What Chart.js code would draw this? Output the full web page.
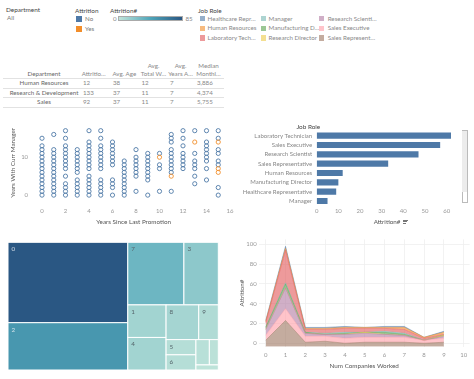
<!DOCTYPE html>
<html><head><meta charset="utf-8">
<script src="https://cdn.jsdelivr.net/npm/chart.js@4.4.1/dist/chart.umd.min.js"></script>
<style>
html,body{margin:0;padding:0}
body{width:474px;height:379px;background:#fff;position:relative;overflow:hidden;font-family:Lato,"Open Sans",sans-serif;color:#555}
.t{position:absolute;white-space:nowrap;line-height:1;font-size:6.2px;color:#666}
.box{position:absolute}
canvas{position:absolute;display:block}
.ln{position:absolute;height:0;border-top:1px solid #e2e2e2}
</style></head><body>
<canvas id="sc" width="240" height="115" style="left:0;top:115px"></canvas>
<canvas id="bar" width="234" height="112" style="left:240px;top:118px"></canvas>
<canvas id="tm" width="235" height="144" style="left:0;top:235px"></canvas>
<canvas id="ar" width="239" height="147" style="left:235px;top:232px"></canvas>
<script>
// ---------- DATA ----------
const attritionLabels = ['No','Yes'];
const jobRoles = ['Healthcare Representative','Human Resources','Laboratory Technician','Manager','Manufacturing Director','Research Director','Research Scientist','Sales Executive','Sales Representative'];
const jobRoleShort = ['Healthcare Repr…','Human Resources','Laboratory Tech…','Manager','Manufacturing D…','Research Director','Research Scienti…','Sales Executive','Sales Represent…'];
const attritionMax = 85;

// table
const deptNames = ['Human Resources','Research & Development','Sales'];
const deptAttrition = [12,133,92];
const deptAvgAge = [38,37,37];
const deptAvgTotalWorking = [12,11,11];
const deptAvgYearsAtCompany = [7,7,7];
const deptMedianMonthly = [3886,4374,5755];

// scatter: years since last promotion -> years with current manager
const promoYears = [0,1,2,3,4,5,6,7,8,9,10,11,12,13,14,15];
const mgrYearsNo = [
  [0,1,2,3,4,5,6,7,8,9,10,11,12,13,15],
  [0,1,2,3,4,5,6,7,8,9,10,11,12,16],
  [0,1,2,3,5,7,8,9,10,11,12,13,15,17],
  [0,1,2,3,4,6,7,8,9,10,11,12],
  [0,1,2,3,4,5,7,8,9,10,11,12,13,14,17],
  [0,1,2,3,4,7,8,9,10,11,12,13,15,17],
  [0,2,3,4,8,9,10,11,12,13,14],
  [0,1,2,3,4,5,6,7,8,9],
  [1,5,6,7,8,9,10,12],
  [0,4,5,6,7,8,9,10,11],
  [1,7,8,11],
  [1,6,7,8,9,10,11,12,14,15,16],
  [7,8,9,10,11,13,15,17],
  [3,5,7,8,9,11,17],
  [4,7,9,10,11,12,13,14,17],
  [0,2,8,9,11,12,15,17]
];
const mgrYearsYes = [[],[],[],[],[],[],[],[],[],[],[10],[5],[],[14],[],[6,7,14]];
const scatterXTicks = [0,2,4,6,8,10,12,14,16];
const scatterYTicks = [0,10];

// bar: attrition by job role
const barRoles = ['Laboratory Technician','Sales Executive','Research Scientist','Sales Representative','Human Resources','Manufacturing Director','Healthcare Representative','Manager'];
const barAttrition = [62,57,47,33,12,10,9,5];
const barXTicks = [0,10,20,30,40,50,60];

// treemap: attrition by years with current manager
const tmCats = ['0','2','7','3','1','4','8','9','5','6','10','11','12'];
const tmVals = [85,50,31,19,11,11,10,6,4,4,3,2,1];

// area: attrition by num companies worked, per job role (stack bottom -> top)
const numCompanies = [0,1,2,3,4,5,6,7,8,9];
const areaSalesRep     = [3,23,1,2,0,1,1,1,0,1];
const areaSalesExec    = [5,12,6,5,5,5,5,5,3,4];
const areaResearchSci  = [6,21,3,2,4,4,3,2,0,2];
const areaResearchDir  = [0,0,0,0,0,1,0,0,0,1];
const areaMfgDir       = [2,4,1,0,1,0,2,1,0,0];
const areaManager      = [0,1,0,1,1,0,1,1,0,0];
const areaLabTech      = [5,33,3,4,4,4,3,4,2,1];
const areaHR           = [1,2,1,1,1,1,1,2,1,2];
const areaHealthcare   = [1,2,1,1,1,0,1,1,0,1];
const areaXTicks = [0,1,2,3,4,5,6,7,8,9,10];
const areaYTicks = [0,20,40,60,80,100];

// ---------- STYLE ----------
const roleColors = ['78,121,167','242,142,43','225,87,89','118,183,178','89,161,79','237,201,72','176,122,161','255,157,167','156,117,95'];
const roleFill = c => `rgba(${c},0.6)`;
const attrColors = ['#4e79a7','#f28e2b'];
const gradStops = [[0,[192,228,218]],[0.5,[78,165,185]],[1,[42,87,131]]];
function grad(t){
  t=Math.max(0,Math.min(1,t));
  for(let i=1;i<gradStops.length;i++){
    if(t<=gradStops[i][0]){
      const a=gradStops[i-1],b=gradStops[i];const u=(t-a[0])/(b[0]-a[0]);
      return 'rgb('+a[1].map((v,k)=>Math.round(v+(b[1][k]-v)*u)).join(',')+')';
    }
  }
  return 'rgb('+gradStops[gradStops.length-1][1].join(',')+')';
}

Chart.defaults.font.family = 'Lato, "Open Sans", sans-serif';
Chart.defaults.font.size = 6;
Chart.defaults.color = '#8a8a8a';
Chart.defaults.animation = false;
Chart.defaults.events = [];
Chart.defaults.plugins.legend.display = false;
Chart.defaults.plugins.tooltip.enabled = false;

// ---------- HTML TEXT ----------
function txt(x,y,s,o={}){
  const d=document.createElement('div');d.className='t';d.textContent=s;
  d.style.left=x+'px';d.style.top=y+'px';
  d.style.transform=o.center?'translate(-50%,-50%)':'translateY(-50%)';
  if(o.size)d.style.fontSize=o.size+'px';
  if(o.color)d.style.color=o.color;
  document.body.appendChild(d);return d;
}
function box(x,y,w,h,bg,extra){
  const d=document.createElement('div');d.className='box';
  d.style.cssText+=`left:${x}px;top:${y}px;width:${w}px;height:${h}px;background:${bg};`+(extra||'');
  document.body.appendChild(d);return d;
}
const hd='#444';
txt(6,10,'Department',{size:6.4,color:hd});
txt(7,18,'All',{color:'#777'});
txt(75,10.5,'Attrition',{size:6.4,color:hd});
attritionLabels.forEach((l,i)=>{box(76,16+i*10.3,6,5.5,attrColors[i]);txt(85,18.8+i*10.3,l,{color:'#777'});});
txt(110,11,'Attrition#',{size:6.4,color:hd});
box(118,16.3,65,5,'linear-gradient(to right,'+gradStops.map(s=>grad(s[0])+' '+(s[0]*100)+'%').join(',')+')','border:0.5px solid #aaa;box-sizing:border-box');
txt(113,19,'0',{color:'#888'});
txt(185.5,19,String(attritionMax),{color:'#888'});
txt(198,10.5,'Job Role',{size:6.4,color:hd});
const legCols=[[199.5,207.5],[260.7,268.5],[319.3,327.7]];
jobRoleShort.forEach((r,i)=>{
  const c=Math.floor(i/3),row=i%3,y=18.7+row*9.7;
  box(legCols[c][0],y-2.7,5.2,5.2,roleFill(roleColors[i]));
  txt(legCols[c][1],y,r,{color:'#888'});
});

// table
const colCenters=[44,93.8,124.3,153.5,180.5,208.5];
const colLeft=[0,83,113,141.5,170,197];
txt(colCenters[0],74,'Department',{center:1,color:'#666'});
txt(colCenters[1],74,'Attritio…',{center:1,color:'#888'});
txt(colCenters[2],74,'Avg. Age',{center:1,color:'#888'});
txt(colCenters[3],66,'Avg.',{center:1,color:'#888'});txt(colCenters[3],74,'Total W…',{center:1,color:'#888'});
txt(colCenters[4],66,'Avg.',{center:1,color:'#888'});txt(colCenters[4],74,'Years A…',{center:1,color:'#888'});
txt(colCenters[5],66,'Median',{center:1,color:'#888'});txt(colCenters[5],74,'Monthl…',{center:1,color:'#888'});
function ln(x,y,w){const d=document.createElement('div');d.className='ln';d.style.left=x+'px';d.style.top=y+'px';d.style.width=w+'px';document.body.appendChild(d);}
ln(3,77.7,221);
deptNames.forEach((n,i)=>{
  const y=83.3+i*9.5;
  txt(colCenters[0],y,n,{center:1,color:'#666'});
  const vals=[deptAttrition[i],deptAvgAge[i],deptAvgTotalWorking[i],deptAvgYearsAtCompany[i],deptMedianMonthly[i].toLocaleString('en-US')];
  vals.forEach((v,k)=>txt(colLeft[k+1],y,String(v),{color:'#888'}));
  ln(3,y+4.6,221);
});

// bar header / scrollbar / sort icon
txt(296.5,126.5,'Job Role',{size:6.4,color:hd});
box(461.5,130,6.5,73,'#fff','border:0.6px solid #bbb;box-sizing:border-box');
box(462.3,130.8,4.9,61.5,'#ececec');
[[0,5],[1.6,4],[3.2,3]].forEach(a=>box(403,219.5+a[0],a[1],0.7,'#777'));

// ---------- SCATTER ----------
const noPts=[],yesPts=[];
promoYears.forEach((x,i)=>{mgrYearsNo[i].forEach(y=>noPts.push({x,y}));mgrYearsYes[i].forEach(y=>yesPts.push({x,y}));});
new Chart(document.getElementById('sc'),{
  type:'scatter',
  data:{datasets:[
    {data:yesPts,pointRadius:2.1,pointBorderWidth:0.9,borderColor:attrColors[1],backgroundColor:'rgba(0,0,0,0)'},
    {data:noPts,pointRadius:2.1,pointBorderWidth:0.9,borderColor:attrColors[0],backgroundColor:'rgba(0,0,0,0)'}
  ]},
  options:{responsive:false,
    layout:{padding:{left:2,top:6.5,right:5.3,bottom:0}},
    scales:{
      x:{type:'linear',min:-0.8,max:16.4,grid:{display:false,drawTicks:false},border:{display:false},
        afterBuildTicks:s=>{s.ticks=scatterXTicks.map(v=>({value:v}));},
        ticks:{padding:5,color:'#999',maxRotation:0},
        title:{display:true,text:'Years Since Last Promotion',color:'#555',font:{size:6.3},padding:{top:0,bottom:4}},
        afterFit:s=>{s.height=27.3;}},
      y:{type:'linear',min:-2,max:19,grid:{display:false,drawTicks:false},border:{display:false},
        afterBuildTicks:s=>{s.ticks=scatterYTicks.map(v=>({value:v}));},
        ticks:{padding:4.5,color:'#999'},
        title:{display:true,text:'Years With Curr Manager',color:'#555',font:{size:6.3},padding:{top:7,bottom:0}},
        afterFit:s=>{s.width=30.6;}}
    }
  }
});

// ---------- BAR ----------
new Chart(document.getElementById('bar'),{
  type:'bar',
  data:{labels:barRoles,datasets:[{data:barAttrition,backgroundColor:attrColors[0],categoryPercentage:1,barPercentage:0.66}]},
  options:{responsive:false,indexAxis:'y',
    layout:{padding:{left:0,top:13,right:16.5,bottom:0}},
    scales:{
      x:{type:'linear',min:0,max:65,grid:{display:false,drawTicks:false},border:{display:false},
        afterBuildTicks:s=>{s.ticks=barXTicks.map(v=>({value:v}));},
        ticks:{padding:1.8,color:'#999'},
        title:{display:true,text:'Attrition#',color:'#555',font:{size:6.3},padding:{top:0,bottom:4}},
        afterFit:s=>{s.height=24.3;}},
      y:{grid:{display:false,drawTicks:false},border:{display:false},
        ticks:{padding:4.5,color:'#888',autoSkip:false},
        afterFit:s=>{s.width=76.7;}}
    }
  }
});

// ---------- TREEMAP ----------
const tmValOf = {};tmCats.forEach((c,i)=>tmValOf[c]=tmVals[i]);
const tmSplit = ['h',['v','0','2'],['v',['h','7','3'],['h',['v','1','4'],['v',['h','8','9'],['h',['v','5','6'],['v',['h','10','11'],'12']]]]]];
const tmTotal = n => typeof n==='string'?tmValOf[n]:n.slice(1).reduce((a,c)=>a+tmTotal(c),0);
const tmRects=[];
(function lay(n,x0,y0,x1,y1){
  if(typeof n==='string'){tmRects.push({cat:n,v:tmValOf[n],x0,y0,x1,y1});return;}
  const dir=n[0],kids=n.slice(1),tot=tmTotal(n);let p=dir==='h'?x0:y0;
  kids.forEach(k=>{const f=tmTotal(k)/tot;
    if(dir==='h'){const w=(x1-x0)*f;lay(k,p,y0,p+w,y1);p+=w;}
    else{const h=(y1-y0)*f;lay(k,x0,p,x1,p+h);p+=h;}});
})(tmSplit,0,0,1,1);
const treemapPlugin={id:'treemapCells',afterDatasetsDraw(chart){
  const {ctx,scales:{x,y}}=chart;
  ctx.save();
  tmRects.forEach(r=>{
    const a=x.getPixelForValue(r.x0),b=x.getPixelForValue(r.x1),c=y.getPixelForValue(r.y0),d=y.getPixelForValue(r.y1);
    ctx.fillStyle=grad(r.v/attritionMax);ctx.fillRect(a,c,b-a,d-c);
    ctx.strokeStyle='#fff';ctx.lineWidth=1;ctx.strokeRect(a,c,b-a,d-c);
    if(r.v>=4){
      ctx.fillStyle=r.v>=40?'rgba(235,240,245,0.85)':'#55666c';
      ctx.font='6.3px Lato, sans-serif';ctx.textBaseline='middle';ctx.textAlign='left';
      ctx.fillText(r.cat,a+3.5,c+7);
    }
  });
  ctx.restore();
}};
new Chart(document.getElementById('tm'),{
  type:'scatter',data:{datasets:[{data:[]}]},
  options:{responsive:false,layout:{padding:{left:8,top:7.3,right:16.7,bottom:9}},
    scales:{x:{type:'linear',min:0,max:1,display:false},y:{type:'linear',min:0,max:1,reverse:true,display:false}}},
  plugins:[treemapPlugin]
});

// ---------- AREA ----------
const areaSeries=[
  [areaSalesRep,8],[areaSalesExec,7],[areaResearchSci,6],[areaResearchDir,5],[areaMfgDir,4],
  [areaManager,3],[areaLabTech,2],[areaHR,1],[areaHealthcare,0]
];
new Chart(document.getElementById('ar'),{
  type:'line',
  data:{datasets:areaSeries.map(([arr,ci],k)=>({
    label:jobRoles[ci],
    data:numCompanies.map((x,i)=>({x,y:arr[i]})),
    fill:k===0?'start':'-1',
    backgroundColor:roleFill(roleColors[ci]),
    borderColor:`rgba(${roleColors[ci]},0.75)`,borderWidth:0.6,
    pointRadius:0,tension:0
  }))},
  options:{responsive:false,
    layout:{padding:{left:0,top:7.4,right:4.4,bottom:0}},
    scales:{
      x:{type:'linear',min:-0.35,max:10.3,grid:{color:'#efefef',lineWidth:0.8,drawTicks:false},border:{display:false},
        afterBuildTicks:s=>{s.ticks=areaXTicks.map(v=>({value:v}));},
        ticks:{padding:4.5,color:'#999'},
        title:{display:true,text:'Num Companies Worked',color:'#555',font:{size:6.3},padding:{top:0,bottom:9}},
        afterFit:s=>{s.height=32.3;}},
      y:{type:'linear',stacked:true,min:-3.5,max:105,grid:{color:'#efefef',lineWidth:0.8,drawTicks:false},border:{display:false},
        afterBuildTicks:s=>{s.ticks=areaYTicks.map(v=>({value:v}));},
        ticks:{padding:2,color:'#999'},
        title:{display:true,text:'Attrition#',color:'#555',font:{size:6.3},padding:{top:2.8,bottom:0}},
        afterFit:s=>{s.width=23.8;}}
    }
  }
});
</script>
</body></html>
